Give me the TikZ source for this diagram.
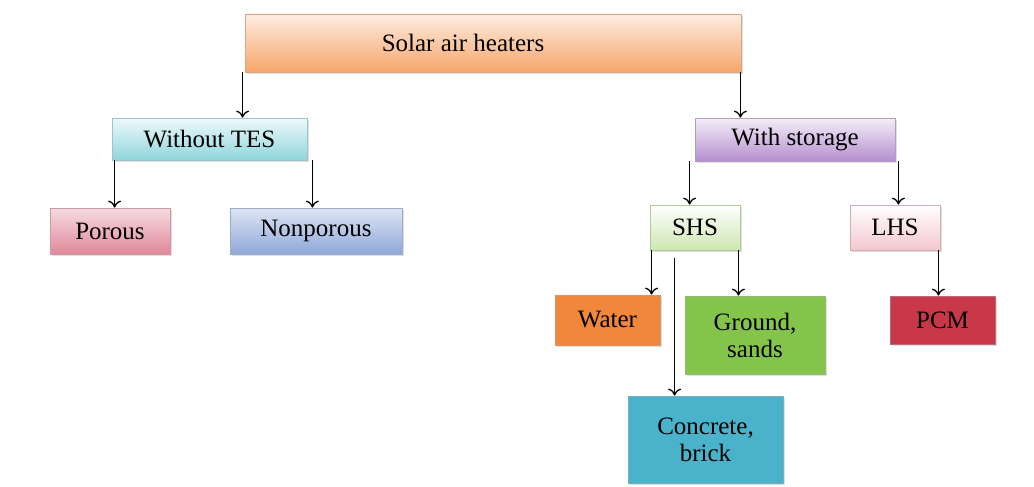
\documentclass[tikz,border=0pt]{standalone}
\usepackage{fontspec}
\setmainfont{Liberation Serif}
\usetikzlibrary{arrows.meta,shadows}
\begin{document}
\begin{tikzpicture}[x=1pt,y=-1pt,
 box/.style={draw=#1!80!black!70, line width=0.8pt, drop shadow={opacity=0.25,shadow xshift=2pt,shadow yshift=-2pt}, inner sep=0pt, align=center, font=\fontsize{25}{27}\selectfont},
 arr/.style={line width=1.3pt, -{To[length=7pt,width=13pt]}}]
\useasboundingbox (0,0) rectangle (1034,487);
\definecolor{cor}{HTML}{F7A56A}\definecolor{ccy}{HTML}{8FD6DC}\definecolor{cpu}{HTML}{B58FD0}
\definecolor{cpk}{HTML}{E0889A}\definecolor{cbl}{HTML}{8FA8DA}\definecolor{cgl}{HTML}{B8DC90}
\definecolor{cpl}{HTML}{EEB0BA}\definecolor{cwa}{HTML}{F0873A}\definecolor{cgr}{HTML}{84C44A}
\definecolor{cpc}{HTML}{C83848}\definecolor{cte}{HTML}{4AB2CA}
\node[box=cor, top color=cor!20, bottom color=cor, minimum width=496, minimum height=58] (top) at (493,43) {\hspace*{-60pt}Solar air heaters};
\node[box=ccy, top color=ccy!15, bottom color=ccy, minimum width=195, minimum height=42] (wt) at (209.5,139) {Without TES};
\node[box=cpu, top color=cpu!15, bottom color=cpu, minimum width=200, minimum height=43] (ws) at (795,139.5) {With storage};
\node[box=cpk, top color=cpk!30, bottom color=cpk, minimum width=120, minimum height=46] (po) at (110,231) {Porous};
\node[box=cbl, top color=cbl!30, bottom color=cbl, minimum width=172, minimum height=46] (np) at (316,231) {Nonporous};
\node[box=cgl, top color=white, bottom color=cgl!70, minimum width=90, minimum height=45] (shs) at (695,227.5) {SHS};
\node[box=cpl, top color=white, bottom color=cpl!70, minimum width=90, minimum height=45] (lhs) at (895,227.5) {LHS};
\node[box=cwa, fill=cwa, minimum width=105, minimum height=50] (wa) at (607.5,320) {Water};
\node[box=cgr, fill=cgr, minimum width=140, minimum height=78] (gr) at (755,335) {Ground,\\sands};
\node[box=cpc, fill=cpc, minimum width=105, minimum height=48] (pcm) at (942.5,320) {PCM};
\node[box=cte, fill=cte, minimum width=155, minimum height=87] (cb) at (705.5,439.5) {Concrete,\\brick};
\draw[arr] ([xshift=-2]top.south west) -- ([xshift=-2]top.south west |- wt.north);
\draw[arr] ([xshift=-1]top.south east) -- ([xshift=-1]top.south east |- ws.north);
\draw[arr] ([xshift=3]wt.south west) -- ([xshift=3]wt.south west |- po.north);
\draw[arr] ([xshift=5]wt.south east) -- ([xshift=5]wt.south east |- np.north);
\draw[arr] ([xshift=-5]ws.south west) -- ([xshift=-5]ws.south west |- shs.north);
\draw[arr] ([xshift=3]ws.south east) -- ([xshift=3]ws.south east |- lhs.north);
\draw[arr] ([xshift=2]shs.south west) -- ([xshift=2]shs.south west |- wa.north);
\draw[arr] ([xshift=-2]shs.south east) -- ([xshift=-2]shs.south east |- gr.north);
\coordinate (c0) at ([xshift=25,yshift=-8]shs.south west);
\draw[arr] (c0) -- (c0 |- cb.north);
\draw[arr] ([xshift=-2]lhs.south east) -- ([xshift=-2]lhs.south east |- pcm.north);
\end{tikzpicture}
\end{document}
